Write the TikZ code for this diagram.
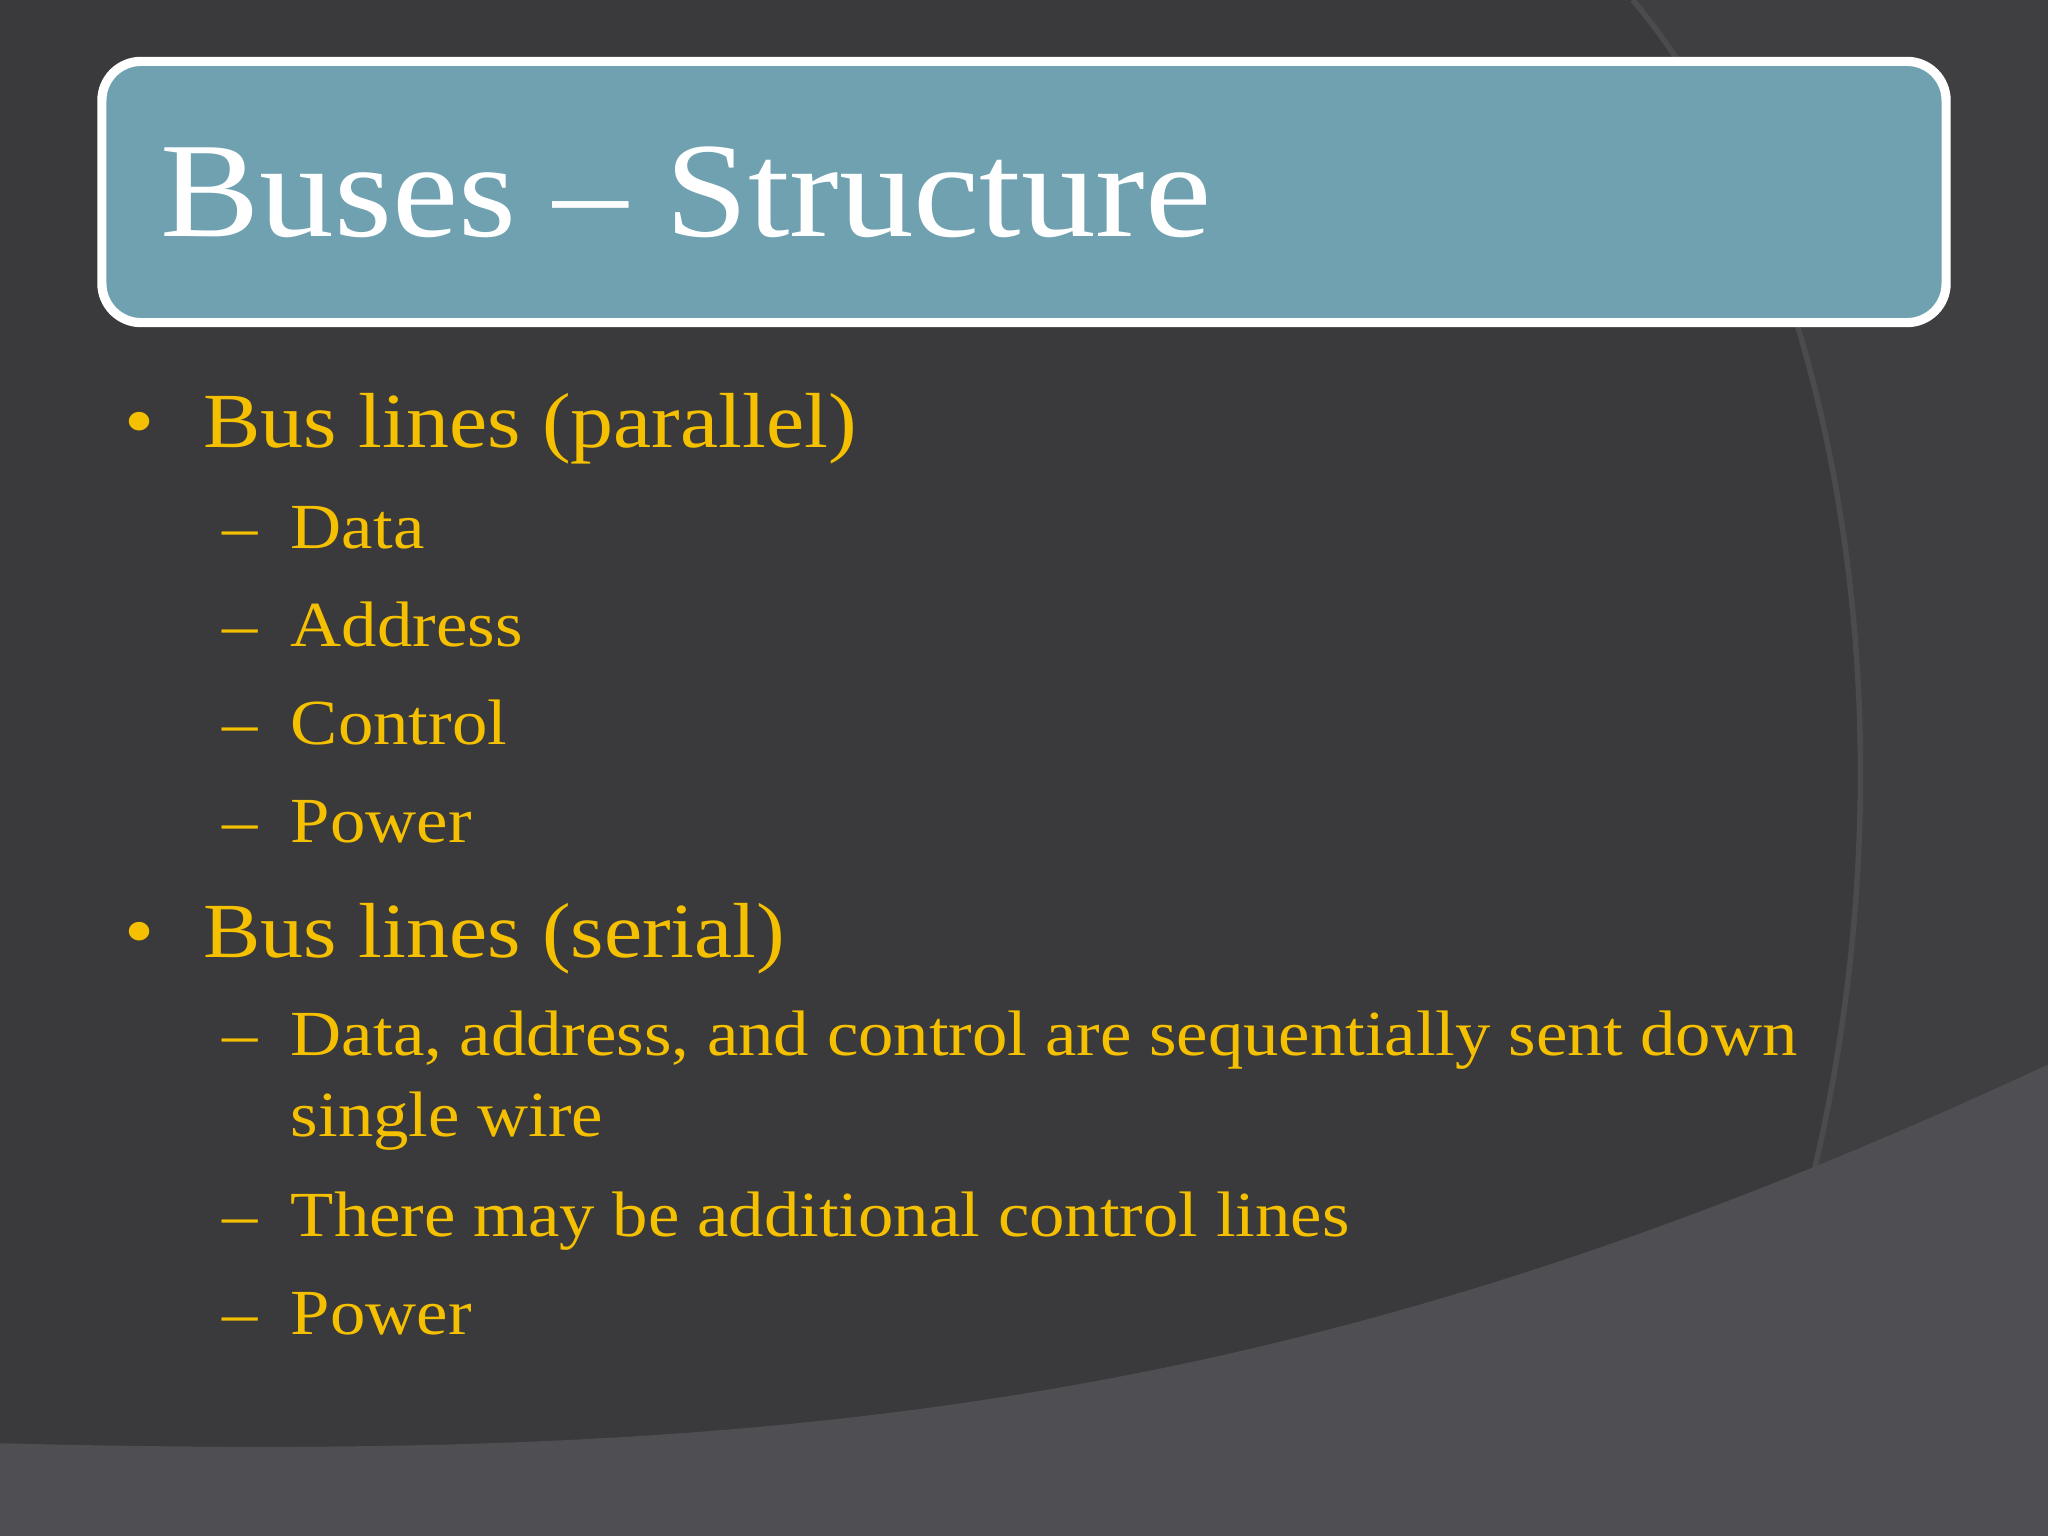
\documentclass[tikz,border=0pt]{standalone}
\usepackage{fontspec}
\setmainfont[FakeStretch=1.1]{Liberation Serif}
\definecolor{bg}{HTML}{3A393B}
\definecolor{bgr}{HTML}{3F3E41}
\definecolor{band}{HTML}{4F4E52}
\definecolor{titlefill}{HTML}{6FA1B1}
\definecolor{gold}{HTML}{F5C000}
\begin{document}
\begin{tikzpicture}[x=0.01cm,y=-0.01cm,
  lvlone/.style={anchor=base west,text=gold,font=\fontsize{17pt}{20pt}\selectfont,inner sep=0},
  lvltwo/.style={anchor=base west,text=gold,font=\fontsize{14pt}{17pt}\selectfont,inner sep=0}]
\fill[bg] (0,0) rectangle (1568,1176);
\useasboundingbox (0,0) rectangle (1568,1176);
\fill[bgr] (1250,0) .. controls (1420,200) and (1520,700) .. (1290,1176) -- (1568,1176) -- (1568,0) -- cycle;
\draw[band!80!bg,line width=1.2pt] (1250,0) .. controls (1420,200) and (1520,700) .. (1290,1176);
\fill[band] (0,1105) .. controls (600,1120) and (1000,1080) .. (1568,815) -- (1568,1176) -- (0,1176) -- cycle;
\draw[draw=white,line width=2pt,fill=titlefill,rounded corners=8.5pt] (78,47) rectangle (1490,247);
\node[anchor=base west,text=white,font=\fontsize{29.5pt}{34pt}\selectfont,inner sep=0] (tt) at (122,181) {Buses – Structure};
\node[lvlone] (b1) at (95,343) {•};
\node[lvlone] (t1) at (155,343) {Bus lines (parallel)};
\node[lvltwo] (d1) at (170,420) {–};\node[lvltwo] (s1) at (222,420) {Data};
\node[lvltwo] (d2) at (170,495) {–};\node[lvltwo] (s2) at (222,495) {Address};
\node[lvltwo] (d3) at (170,570) {–};\node[lvltwo] (s3) at (222,570) {Control};
\node[lvltwo] (d4) at (170,645) {–};\node[lvltwo] (s4) at (222,645) {Power};
\node[lvlone] (b2) at (95,733) {•};
\node[lvlone] (t2) at (155,733) {Bus lines (serial)};
\node[lvltwo] (d5) at (170,808) {–};\node[lvltwo] (s5) at (222,808) {Data, address, and control are sequentially sent down};
\node[lvltwo] (s5b) at (222,870) {single wire};
\node[lvltwo] (d6) at (170,947) {–};\node[lvltwo] (s6) at (222,947) {There may be additional control lines};
\node[lvltwo] (d7) at (170,1022) {–};\node[lvltwo] (s7) at (222,1022) {Power};
\end{tikzpicture}
\end{document}
